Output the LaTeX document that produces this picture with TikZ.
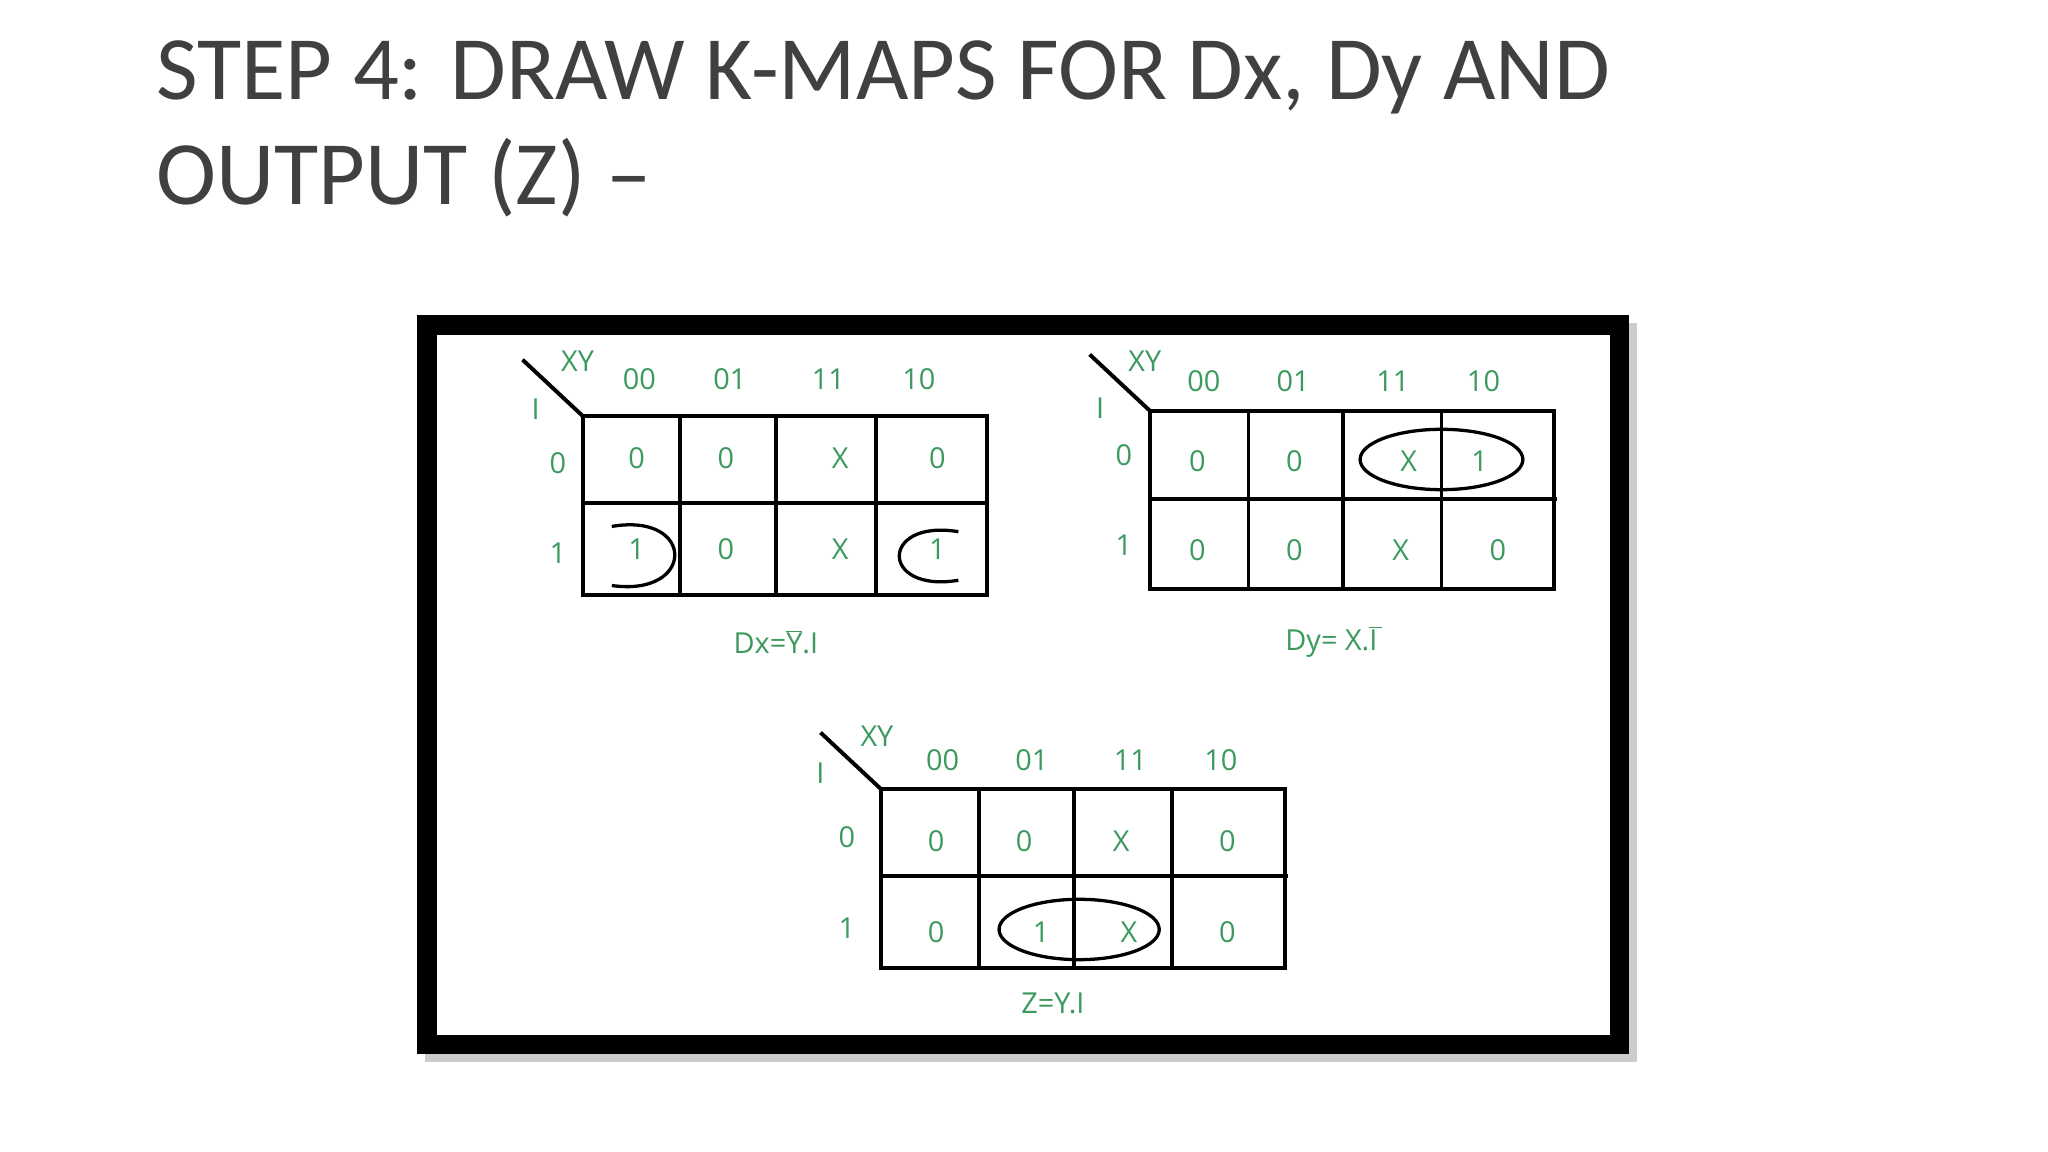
\documentclass[tikz,border=0pt]{standalone}
\usepackage{fontspec}
\setmainfont{Carlito}
\newfontfamily\kfont{Open Sans}
\definecolor{kg}{HTML}{3C9A5F}
\definecolor{tg}{HTML}{404040}
\begin{document}
\begin{tikzpicture}[x=1pt,y=-1pt,
  grid/.style={line width=3pt,black},
  kt/.style={text=kg,font=\kfont\fontsize{22}{24}\selectfont,inner sep=0pt},
  ttl/.style={text=tg,font=\fontsize{69}{76}\selectfont,anchor=base west,inner sep=0pt}]
\useasboundingbox (0,0) rectangle (1560,877.5);
\node[ttl] (t1) at (119,76) {STEP 4: DRAW K-MAPS FOR Dx, Dy AND};
\node[ttl] (t2) at (119,156) {OUTPUT (Z) –};
% frame
\fill[gray!40] (324,246) rectangle (1247,809);
\fill[white] (333,255) rectangle (1226,788);
\draw[line width=15pt] (325.5,247.5) rectangle (1233.5,795.5);
% map 1
\draw[grid] (444,317) rectangle (752,453);
\draw[grid] (444,383) -- (752,383);
\foreach \x in {518,591,667} \draw[grid] (\x,317) -- (\x,453);
\draw[grid] (398,274) -- (444,317);
\node[kt] (a1) at (440,275) {XY};
\node[kt] (a2) at (408,312) {I};
\node[kt] (a3) at (425,353) {0};
\node[kt] (a4) at (425,421) {1};
\foreach \x/\t in {487/00,556/01,631/11,700/10} \node[kt] at (\x,289) {\t};
\foreach \x/\t in {485/0,553/0,640/X,714/0} \node[kt] at (\x,349) {\t};
\foreach \x/\t in {485/1,553/0,640/X,714/1} \node[kt] at (\x,418) {\t};
\draw[line width=2.5pt] (466,401) .. controls (530,390) and (530,455) .. (466,446);
\draw[line width=2.5pt] (730,405) .. controls (670,395) and (670,452) .. (730,442);
\node[kt] (l1) at (591,489) {Dx=$\overline{\mbox{Y}}$.I};
% map 2
\draw[grid] (876,313) rectangle (1184,449);
\draw[grid] (876,380) -- (1186,380);
\foreach \x in {951,1023,1098} \draw[grid] (\x,313) -- (\x,449);
\draw[grid] (830,270) -- (876,313);
\node[kt] (b1) at (872,275) {XY};
\node[kt] (b2) at (838,311) {I};
\node[kt] (b3) at (856,347) {0};
\node[kt] (b4) at (856,415) {1};
\foreach \x/\t in {917/00,985/01,1061/11,1130/10} \node[kt] at (\x,290) {\t};
\foreach \x/\t in {912/0,986/0,1073/X,1127/1} \node[kt] at (\x,351) {\t};
\foreach \x/\t in {912/0,986/0,1067/X,1141/0} \node[kt] at (\x,419) {\t};
\draw[line width=2.5pt] (1098,350) ellipse [x radius=62,y radius=23];
\node[kt] (l2) at (1016,489) {Dy= X.$\overline{\mbox{I\,}}$};
% map 3
\draw[grid] (671,601) rectangle (979,737);
\draw[grid] (671,667) -- (981,667);
\foreach \x in {746,818,893} \draw[grid] (\x,601) -- (\x,737);
\draw[grid] (625,558) -- (671,601);
\node[kt] (c1) at (668,561) {XY};
\node[kt] (c2) at (625,589) {I};
\node[kt] (c3) at (645,638) {0};
\node[kt] (c4) at (645,707) {1};
\foreach \x/\t in {718/00,786/01,861/11,930/10} \node[kt] at (\x,579) {\t};
\foreach \x/\t in {713/0,780/0,854/X,935/0} \node[kt] at (\x,641) {\t};
\foreach \x/\t in {713/0,793/1,860/X,935/0} \node[kt] at (\x,710) {\t};
\draw[line width=2.5pt] (822,708) ellipse [x radius=61,y radius=23];
\node[kt] (l3) at (802,764) {Z=Y.I};
\end{tikzpicture}
\end{document}
